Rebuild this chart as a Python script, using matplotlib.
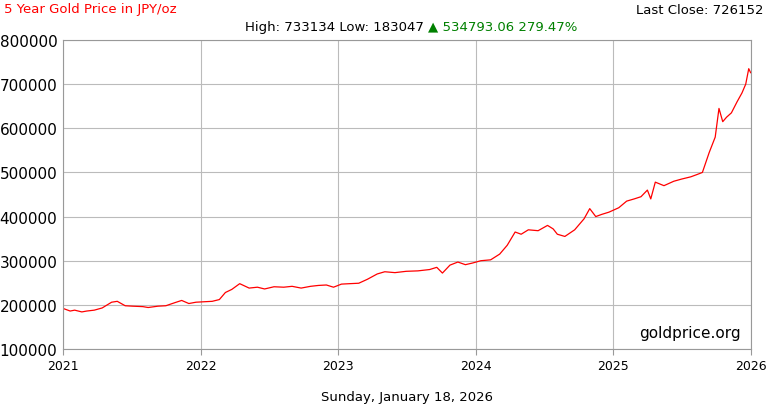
import matplotlib
matplotlib.use("Agg")
import matplotlib.pyplot as plt
import pandas as pd

dates = ["2021-01-01","2021-01-20","2021-02-01","2021-02-20","2021-03-05","2021-03-25","2021-04-15","2021-05-10","2021-05-25","2021-06-15","2021-07-05","2021-08-01","2021-08-15","2021-09-10","2021-10-01","2021-10-25","2021-11-12","2021-12-01","2021-12-20",
"2022-01-10","2022-02-01","2022-02-20","2022-03-08","2022-03-25","2022-04-15","2022-05-10","2022-06-01","2022-06-20","2022-07-15","2022-08-10","2022-09-01","2022-09-25","2022-10-20","2022-11-10","2022-12-01","2022-12-20",
"2023-01-10","2023-02-01","2023-02-25","2023-03-20","2023-04-15","2023-05-05","2023-06-01","2023-07-01","2023-08-01","2023-09-01","2023-09-20","2023-10-05","2023-10-25","2023-11-15","2023-12-05","2023-12-25",
"2024-01-15","2024-02-10","2024-03-05","2024-03-25","2024-04-15","2024-05-01","2024-05-20","2024-06-15","2024-07-10","2024-07-25","2024-08-05","2024-08-25","2024-09-20","2024-10-15","2024-10-30","2024-11-15","2024-12-01","2024-12-20",
"2025-01-15","2025-02-05","2025-02-25","2025-03-15","2025-04-01","2025-04-10","2025-04-22","2025-05-15","2025-06-10","2025-07-01","2025-07-25","2025-08-10","2025-08-25","2025-09-12","2025-09-28","2025-10-08","2025-10-18","2025-10-28","2025-11-10","2025-11-25","2025-12-08","2025-12-18","2025-12-26","2025-12-31"]
prices = [192000,186000,188000,184000,186000,188000,193000,206000,208000,198000,197000,196000,194000,197000,198000,205000,210000,203000,206000,
207000,208000,212000,228000,235000,248000,238000,240000,236000,241000,240000,242000,238000,242000,244000,245000,240000,
247000,248000,249000,258000,270000,275000,273000,276000,277000,280000,285000,272000,290000,297000,291000,295000,
300000,302000,315000,335000,365000,360000,370000,368000,380000,372000,360000,355000,370000,395000,418000,400000,405000,410000,
420000,435000,440000,445000,460000,440000,478000,470000,480000,485000,490000,495000,500000,545000,580000,645000,615000,625000,635000,660000,680000,700000,735000,726000]

df = pd.DataFrame({"date": pd.to_datetime(dates), "price": prices})

fig = plt.figure(figsize=(7.7, 4.1), dpi=100)
ax = fig.add_axes([63/770, 60/410, 688/770, 309/410])
ax.plot(df["date"], df["price"], color="red", lw=0.9)
ax.set_xlim(pd.Timestamp("2021-01-01"), pd.Timestamp("2026-01-01"))
ax.set_ylim(100000, 800000)
ax.set_yticks(range(100000, 800001, 100000))
ax.set_xticks([pd.Timestamp(f"{y}-01-01") for y in range(2021, 2027)])
ax.set_xticklabels([str(y) for y in range(2021, 2027)])
ax.grid(True, color="#bbbbbb", lw=0.8)
for s in ax.spines.values():
    s.set_color("#999999")
ax.tick_params(axis="y", labelsize=11, length=0, pad=4)
ax.tick_params(axis="x", labelsize=9, length=4, color="#999999")
ax.text(0.985, 0.03, "goldprice.org", transform=ax.transAxes, ha="right", va="bottom", fontsize=11)

fig.text(4/770, 1-10/410, "5 Year Gold Price in JPY/oz", color="red", fontsize=9.5, va="center")
fig.text(764/770, 1-10/410, "Last Close: 726152", fontsize=9.5, va="center", ha="right")
t1 = fig.text(245/770, 1-27/410, "High: 733134 Low: 183047 ", fontsize=9.5, va="center")
fig.canvas.draw()
bb = t1.get_window_extent()
fig.text(bb.x1/770, 1-27/410, "▲ 534793.06 279.47%", color="green", fontsize=9.5, va="center")
fig.text(407/770, 1-398/410, "Sunday, January 18, 2026", fontsize=9.5, va="center", ha="center")
fig.savefig("out.png")
